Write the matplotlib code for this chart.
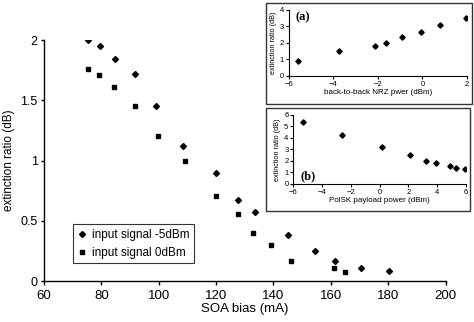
import matplotlib
matplotlib.use("Agg")
import matplotlib.pyplot as plt
from matplotlib.ticker import FuncFormatter
from matplotlib.patches import Rectangle

plt.rcParams['font.family'] = ['Liberation Sans', 'DejaVu Sans']

# Main chart data
soa_m5 = [75.4, 79.5, 84.8, 91.9, 99.2, 108.5, 120.0, 127.7, 133.4, 145.0, 154.6, 161.3, 170.4, 180.4]
er_m5 = [2.00, 1.95, 1.84, 1.72, 1.45, 1.12, 0.90, 0.67, 0.57, 0.38, 0.25, 0.17, 0.11, 0.08]
soa_0 = [75.2, 79.3, 84.5, 91.8, 99.9, 109.2, 120.0, 127.6, 132.8, 139.1, 146.2, 161.0, 164.9]
er_0 = [1.76, 1.71, 1.61, 1.455, 1.20, 1.00, 0.705, 0.555, 0.40, 0.30, 0.17, 0.105, 0.075]
main_xticks = [60, 80, 100, 120, 140, 160, 180, 200]
main_yticks = [0, 0.5, 1, 1.5, 2]

# Inset (a)
nrz_pwr = [-5.6, -3.75, -2.15, -1.65, -0.9, -0.08, 0.77, 1.97]
nrz_er = [0.93, 1.53, 1.84, 1.98, 2.38, 2.67, 3.07, 3.53]
a_xticks = [-6, -4, -2, 0, 2]
a_yticks = [0, 1, 2, 3, 4]

# Inset (b)
polsk_pwr = [-5.3, -2.62, 0.13, 2.12, 3.21, 3.93, 4.90, 5.34, 5.94]
polsk_er = [5.36, 4.29, 3.24, 2.50, 2.04, 1.83, 1.59, 1.37, 1.30]
b_xticks = [-6, -4, -2, 0, 2, 4, 6]
b_yticks = [0, 1, 2, 3, 4, 5, 6]

fmt = FuncFormatter(lambda v, p: '%g' % v)

fig = plt.figure(figsize=(4.74, 3.22), dpi=100)
ax = fig.add_axes([0.0928, 0.1273, 0.8471, 0.7484])
ax.plot(soa_m5, er_m5, linestyle='none', marker='D', markersize=3.0, color='black',
        label='input signal -5dBm')
ax.plot(soa_0, er_0, linestyle='none', marker='s', markersize=3.5, color='black',
        label='input signal 0dBm')
ax.set_xlim(60, 200)
ax.set_ylim(0, 2)
ax.set_xticks(main_xticks)
ax.set_yticks(main_yticks)
ax.yaxis.set_major_formatter(fmt)
ax.spines['top'].set_visible(False)
ax.spines['right'].set_visible(False)
for s in ['left', 'bottom']:
    ax.spines[s].set_linewidth(1.0)
ax.tick_params(direction='out', length=3, width=1.0, labelsize=9.5)
ax.tick_params(axis='y', labelsize=9, length=2.5, pad=2)
ax.set_xlabel('SOA bias (mA)', fontsize=9.5, labelpad=1)
ax.set_ylabel('extinction ratio (dB)', fontsize=8.5)
ax.yaxis.set_label_coords(-0.072, 0.5)
leg = ax.legend(loc='lower left', bbox_to_anchor=(0.0715, 0.073), fontsize=8.5,
                frameon=True, fancybox=False, edgecolor='black', handlelength=0.8,
                handletextpad=0.4, borderpad=0.4, labelspacing=0.5, borderaxespad=0)
leg.get_frame().set_linewidth(0.8)

# Inset boxes
for (x0, y0, w, h) in [(0.5612, 0.677, 0.4346, 0.3137), (0.5612, 0.3447, 0.4304, 0.3199)]:
    fig.patches.append(Rectangle((x0, y0), w, h, transform=fig.transFigure,
                                 facecolor='white', edgecolor='#333333', linewidth=1.0, zorder=5))

def style_inset(a):
    a.set_zorder(6)
    a.patch.set_alpha(0)
    a.spines['top'].set_visible(False)
    a.spines['right'].set_visible(False)
    for s in ['left', 'bottom']:
        a.spines[s].set_linewidth(0.8)
    a.tick_params(direction='out', length=2, width=0.8, labelsize=5.5, pad=1.5)
    a.yaxis.set_major_formatter(fmt)

axa = fig.add_axes([0.6097, 0.764, 0.3755, 0.205])
axa.plot(nrz_pwr, nrz_er, linestyle='none', marker='D', markersize=2.7, color='black')
axa.set_xlim(-6, 2)
axa.set_ylim(0, 4)
axa.set_xticks(a_xticks)
axa.set_yticks(a_yticks)
style_inset(axa)
axa.set_xlabel('back-to-back NRZ pwer (dBm)', fontsize=5.8, labelpad=0.5)
axa.set_ylabel('extinction ratio (dB)', fontsize=5.2, labelpad=2)
axa.text(0.034, 0.89, '(a)', transform=axa.transAxes, fontsize=9, fontweight='bold',
         family='Liberation Serif', va='center', ha='left')

axb = fig.add_axes([0.6188, 0.4286, 0.3643, 0.2143])
axb.plot(polsk_pwr, polsk_er, linestyle='none', marker='D', markersize=2.7, color='black')
axb.set_xlim(-6, 6)
axb.set_ylim(0, 6)
axb.set_xticks(b_xticks)
axb.set_yticks(b_yticks)
style_inset(axb)
axb.set_xlabel('PolSK payload power (dBm)', fontsize=5.8, labelpad=0.5)
axb.set_ylabel('extinction ratio (dB)', fontsize=5.2, labelpad=2)
axb.text(0.043, 0.116, '(b)', transform=axb.transAxes, fontsize=9, fontweight='bold',
         family='Liberation Serif', va='center', ha='left')

fig.savefig('out.png', dpi=100)
